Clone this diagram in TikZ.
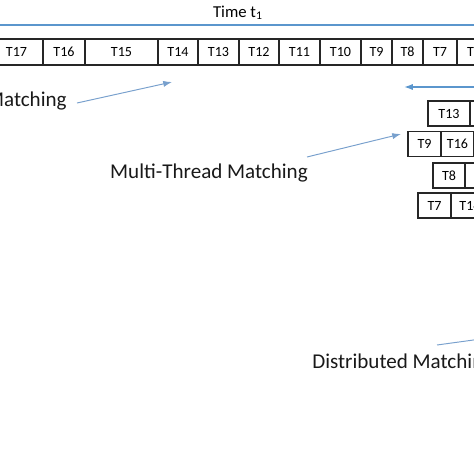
\documentclass[tikz,border=0pt]{standalone}
\usepackage{fontspec}
\setmainfont{Carlito}
\usetikzlibrary{arrows.meta,positioning}
\definecolor{lineblue}{RGB}{91,150,205}
\definecolor{arrowblue}{RGB}{120,160,205}

\tikzset{
  slot/.style={draw=black!85, line width=0.6pt, inner sep=0pt, minimum height=0.5cm,
    font=\fontsize{8}{9}\selectfont},
  bigtext/.style={inner sep=0pt, font=\fontsize{12}{14}\selectfont, text=black!90},
  pointer/.style={draw=arrowblue, line width=0.55pt, -{Latex[length=5pt,width=3.5pt]}}
}

\begin{document}
\begin{tikzpicture}[x=0.02cm, y=-0.02cm]
  \useasboundingbox (0,0) rectangle (474,474);

  % time axis
  \node[inner sep=0pt, font=\fontsize{9.5}{11}\selectfont] (time) at (238,13) {Time t\textsubscript{1}};
  \coordinate (axisL) at (-10,25);
  \coordinate (axisR) at (500,25);
  \draw[lineblue, line width=0.8pt] (axisL) -- (axisR);

  % single queue of tasks
  \foreach \name/\txt/\l/\r in {q17/T17/-10/43, q16/T16/43/85, q15/T15/85/158,
      q14/T14/158/198, q13/T13/198/239, q12/T12/239/279, q11/T11/279/320,
      q10/T10/320/361, q9/T9/361/392, q8/T8/392/423, q7/T7/423/457, q6/T6/457/491}
    \node[slot, minimum width={(\r-\l)*0.02cm}, minimum height=0.52cm] (\name) at ({(\l+\r)/2},52) {\txt};

  % parallel queues
  \foreach \name/\txt/\l/\r/\y in {p13/T13/428/470/113.5, pa/{}/470/512/113.5,
      p9/T9/408/441/144, p16/T16/441/474/144, pb/{}/474/512/144,
      p8/T8/433/465/175.5, pc/{}/465/505/175.5,
      p7/T7/418/451/205.5, p14/T14/451/489/205.5}
    \node[slot, minimum width={(\r-\l)*0.02cm}] (\name) at ({(\l+\r)/2},\y) {\txt};

  % labels
  \node[bigtext, anchor=east] (single) at (67,101) {Matching};
  \node[bigtext] (multi) at (209,173) {Multi-Thread Matching};
  \node[bigtext, anchor=west] (dist) at (312,363) {Distributed Matching};

  % pointers
  \coordinate (singleA) at (77,103);
  \coordinate (singleB) at (172,82);
  \coordinate (multiA) at (307,157);
  \coordinate (multiB) at (401,134);
  \coordinate (splitA) at (500,87);
  \coordinate (splitB) at (404,87);
  \coordinate (distA) at (437,345);
  \coordinate (distB) at (510,335);
  \draw[pointer] (singleA) -- (singleB);
  \draw[pointer] (multiA) -- (multiB);
  \draw[pointer, draw=lineblue, line width=0.8pt] (splitA) -- (splitB);
  \draw[pointer] (distA) -- (distB);
\end{tikzpicture}
\end{document}
